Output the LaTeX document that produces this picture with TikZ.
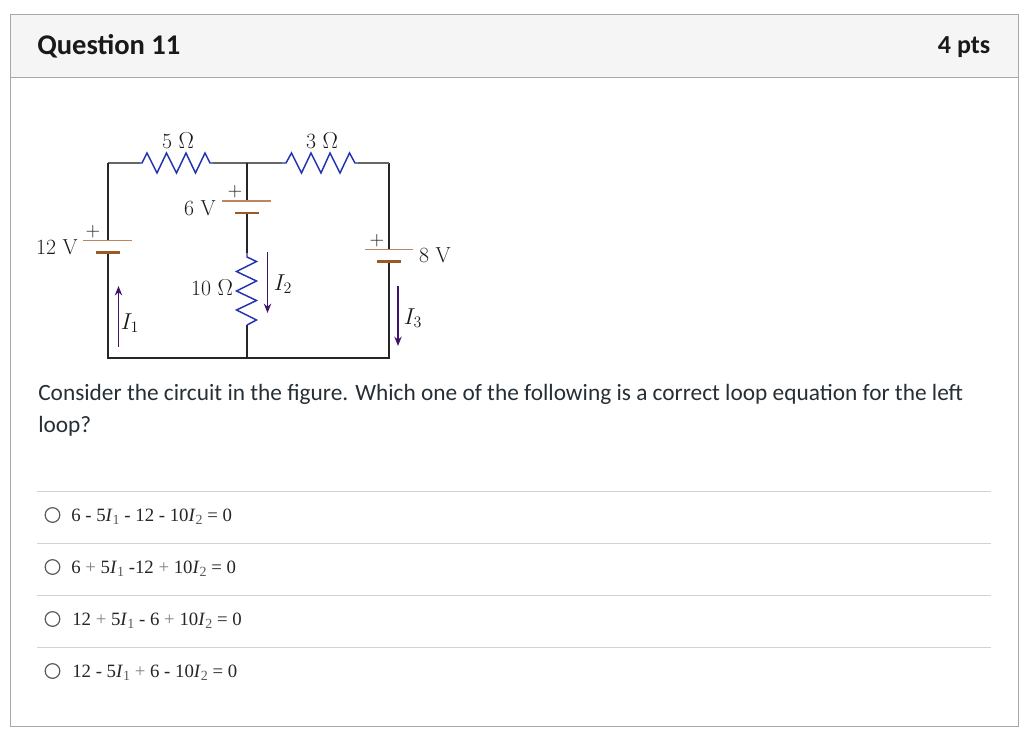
\documentclass[tikz,border=0pt]{standalone}
\usepackage{fontspec}
\usepackage{amsmath}
\usetikzlibrary{arrows.meta}
\newfontfamily\uifont{Carlito}
\newfontfamily\optfont{Liberation Serif}
\definecolor{hdrfill}{HTML}{F5F5F5}
\definecolor{frameclr}{HTML}{A8A8A8}
\definecolor{ruleclr}{HTML}{D2D2D2}
\definecolor{textclr}{HTML}{262F36}
\definecolor{zigclr}{HTML}{2233B0}
\definecolor{longclr}{HTML}{BC8660}
\definecolor{shortclr}{HTML}{9A5A24}
\definecolor{arrclr}{HTML}{40126A}
\newcommand{\cur}[1]{\textit{I}\raisebox{-.35ex}{\fontsize{10.5}{10.5}\selectfont\textcolor{black!65}{#1}}}
\newcommand{\pl}{\textcolor{black!50}{+}}
\tikzset{
  wire/.style={line width=1.3pt,black!85},
  topwire/.style={line width=1.3pt,black!60},
  zig/.style={line width=1.1pt,zigclr,line join=miter},
  longplate/.style={line width=1.25pt,longclr},
  shortplate/.style={line width=1.9pt,shortclr},
  curarrow/.style={line width=1.45pt,arrclr,-{Stealth[length=7pt,width=5.5pt]}},
  val/.style={font=\fontsize{16.3}{16}\selectfont,text=black!90},
  curlbl/.style={font=\fontsize{16.5}{16}\selectfont,text=black!90},
  pol/.style={font=\fontsize{15}{15}\selectfont,text=black!90},
  heading/.style={font=\uifont\bfseries\fontsize{21.4}{21}\selectfont,text=black!90,anchor=base west},
  bodytext/.style={font=\uifont\fontsize{17.5}{17}\selectfont,text=textclr,anchor=base west},
  opt/.style={font=\optfont\fontsize{14.1}{14}\selectfont,text=black!85,anchor=base west},
  radio/.style={draw=black!65,line width=.9pt,shape=circle,fill=white,minimum size=11pt}
}
\begin{document}
\begin{tikzpicture}[x=.75pt,y=-.75pt,every node/.style={inner sep=0pt}]
  \useasboundingbox (0,0) rectangle (1024,728);
  \path[fill=white] (0,0) rectangle (1024,728);
  \draw[frameclr,fill=hdrfill,line width=.7pt] (10,14) rectangle (1018,77);
  \draw[frameclr,line width=.7pt] (10,77) -- (10,726) -- (1018,726) -- (1018,77);
  \node[heading] (title) at (37,54) {Question 11};
  \node[heading,anchor=base east,font=\uifont\bfseries\fontsize{19.5}{20}\selectfont] (pts) at (990.5,53) {4 pts};

  \path (108,163) coordinate (tl) (247,163) coordinate (tm) (389,163) coordinate (tr)
  (108,358) coordinate (bl) (247,358) coordinate (bm) (389,358) coordinate (br)
  (140,163) coordinate (r5a) (213,163) coordinate (r5b)
  (282,163) coordinate (r3a) (358,163) coordinate (r3b)
  (247,253) coordinate (r10a) (247,325) coordinate (r10b)
  (108,240.5) coordinate (b12a) (108,252.5) coordinate (b12b)
  (247,201) coordinate (b6a) (247,213) coordinate (b6b)
  (389,249.5) coordinate (b8a) (389,261.5) coordinate (b8b);

  \draw[topwire] (r5a) -- (tl);
  \draw[wire] (tl) -- (b12a) (b12b) -- (bl) -- (br) -- (b8b) (b8a) -- (tr);
  \draw[topwire] (tr) -- (r3b) (r3a) -- (tm) -- (r5b);
  \draw[wire] (tm) -- (b6a) (b6b) -- (r10a) (r10b) -- (bm);

  \draw[zig] (r5a) -- (142,163) -- (147,153) -- (157,173) -- (166.5,153) -- (176.5,173) -- (186,153) -- (195.5,173) -- (205,153) -- (210,163) -- (r5b);
  \draw[zig] (r3a) -- (286,163) -- (291.5,153) -- (301.5,173) -- (311,153) -- (321,173) -- (330,153) -- (340,173) -- (349.5,153) -- (355,163) -- (r3b);
  \draw[zig] (r10a) -- (247,257) -- (256.5,261.5) -- (236.5,271.5) -- (256.5,281) -- (236.5,291) -- (256.5,300.5) -- (236.5,310) -- (256.5,320) -- (r10b);

  \draw[longplate] (83,240.5) -- (b12a) -- (132,240.5);
  \draw[shortplate] (96,252.5) -- (b12b) -- (120,252.5);
  \draw[longplate] (222,201) -- (b6a) -- (271,201);
  \draw[shortplate] (235,213) -- (b6b) -- (259,213);
  \draw[longplate] (365,249.5) -- (b8a) -- (413,249.5);
  \draw[shortplate] (377,261.5) -- (b8b) -- (401,261.5);

  \path (118.5,347) coordinate (i1a) (118.5,286) coordinate (i1b)
  (267.5,252) coordinate (i2a) (267.5,313) coordinate (i2b)
  (398,286) coordinate (i3a) (398,346) coordinate (i3b);
  \draw[curarrow] (i1a) -- (i1b);
  \draw[curarrow] (i2a) -- (i2b);
  \draw[curarrow] (i3a) -- (i3b);

  \node[val] (l5) at (178,141) {5 $\Omega$};
  \node[val] (l3) at (322,141) {3 $\Omega$};
  \node[val] (l6) at (200,208) {6 V};
  \node[val] (l12) at (57,247) {12 V};
  \node[val] (l10) at (212,288) {10 $\Omega$};
  \node[val] (l8) at (435,255) {8 V};
  \node[pol] (p12) at (93,232) {$+$};
  \node[pol] (p6) at (235,192) {$+$};
  \node[pol] (p8) at (377,241) {$+$};
  \node[curlbl] (c1) at (130,323) {$I_1$};
  \node[curlbl] (c2) at (283,284) {$I_2$};
  \node[curlbl] (c3) at (413,318) {$I_3$};

  \node[bodytext] (q1) at (38,400) {Consider the circuit in the figure. Which one of the following is a correct loop equation for the left};
  \node[bodytext] (q2) at (38,432) {loop?};

  \foreach \y in {491.5,543.5,595.5,647.5}
    \draw[ruleclr,line width=.75pt] (37,\y) -- (991,\y);

  \node[radio] (o1) at (52.5,515) {};
  \node[radio] (o2) at (52.5,567) {};
  \node[radio] (o3) at (52.5,619) {};
  \node[radio] (o4) at (52.5,671) {};
  \node[opt] (a1) at (71,521) {6 - 5\cur{1} - 12 - 10\cur{2} = 0};
  \node[opt] (a2) at (71,573) {6 \pl{} 5\cur{1} -12 \pl{} 10\cur{2} = 0};
  \node[opt] (a3) at (72,625) {12 \pl{} 5\cur{1} - 6 \pl{} 10\cur{2} = 0};
  \node[opt] (a4) at (72,677) {12 - 5\cur{1} \pl{} 6 - 10\cur{2} = 0};
\end{tikzpicture}
\end{document}
